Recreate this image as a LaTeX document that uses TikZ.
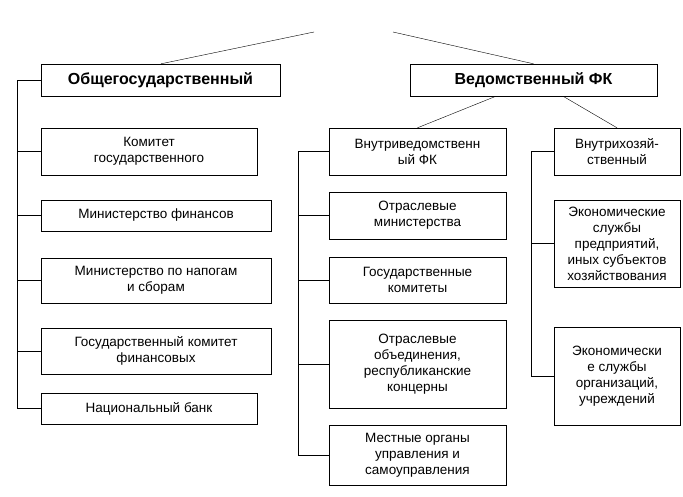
\documentclass[tikz,border=0pt]{standalone}
\usepackage{fontspec}
\setmainfont{Liberation Sans}
\begin{document}
\begin{tikzpicture}[x=1pt,y=-1pt,
    box/.style={draw, align=center, inner sep=1pt, font=\fontsize{13.5}{16}\selectfont},
    head/.style={box, minimum height=32, font=\fontsize{16}{18}\selectfont\bfseries},
    line/.style={thin}
]
    \useasboundingbox (0,0) rectangle (683,496);
    % top level
    \coordinate (topL) at (314,32);
    \coordinate (topR) at (393,32);
    \node[head, minimum width=239] (obsh) at (160.5,80) {Общегосударственный};
    \node[head, minimum width=247] (vedom) at (533.5,80) {Ведомственный ФК};
    
    % left column
    \node[box, minimum width=216, minimum height=47] (kom) at (149,151.5) {Комитет\\государственного};
    \node[box, minimum width=230, minimum height=31] (minfin) at (156,215.5) {Министерство финансов};
    \node[box, minimum width=230, minimum height=45] (minnal) at (156,280.5) {Министерство по напогам\\и сборам};
    \node[box, minimum width=230, minimum height=46] (goskom) at (156,351) {Государственный комитет\\финансовых};
    \node[box, minimum width=216, minimum height=31] (nb) at (149,408.5) {Национальный  банк};
    
    % middle column
    \node[box, minimum width=177, minimum height=47] (vnved) at (417.5,151.5) {Внутриведомственн\\ый ФК};
    \node[box, minimum width=177, minimum height=47] (otrmin) at (417.5,215.5) {Отраслевые\\министерства};
    \node[box, minimum width=177, minimum height=46] (goskomt) at (417.5,280) {Государственные\\комитеты};
    \node[box, minimum width=177, minimum height=88] (otrob) at (417.5,364) {Отраслевые\\объединения,\\республиканские\\концерны};
    \node[box, minimum width=177, minimum height=60] (mest) at (417.5,455) {Местные органы\\управления  и\\самоуправления};
    
    % right column
    \node[box, minimum width=126, minimum height=47] (vnhoz) at (617,151.5) {Внутрихозяй-\\ственный};
    \node[box, minimum width=126, minimum height=87] (ekpr) at (617,243.5) {Экономические\\службы\\предприятий,\\иных субъектов\\хозяйствования};
    \node[box, minimum width=126, minimum height=98] (ekorg) at (617,376) {Экономически\\е службы\\организаций,\\учреждений};
    
    % connectors
    \draw[line] (obsh.north) ++(0.5,0) -- (topL);
    \draw[line] (topR) -- (vedom.north);
    \draw[line] (vedom.south) ++(-37.5,0) coordinate (v1) -- (vnved.north);
    \draw[line] (vedom.south) ++(29.5,0) coordinate (v2) -- (vnhoz.north);
    \draw[line] (obsh.west) -- ++(-24,0) coordinate (sL) |- (nb.west);
    \foreach \n in {kom,minfin,minnal,goskom}
        \draw[line] (\n.west) -- (\n.west -| sL);
    \draw[line] (vnved.west) -- ++(-31,0) coordinate (sM) |- (mest.west);
    \foreach \n in {otrmin,goskomt,otrob}
        \draw[line] (\n.west) -- (\n.west -| sM);
    \draw[line] (vnhoz.west) -- ++(-23,0) coordinate (sR) |- (ekorg.west);
    \draw[line] (ekpr.west) -- (ekpr.west -| sR);
\end{tikzpicture}
\end{document}
